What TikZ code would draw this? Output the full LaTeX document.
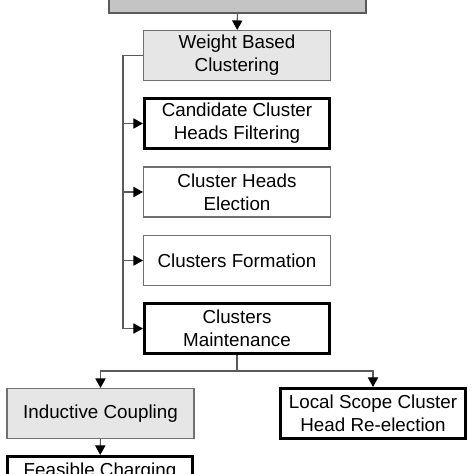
\documentclass[tikz,border=0pt]{standalone}
\usepackage{fontspec}
\setmainfont{Liberation Sans}
\usetikzlibrary{arrows.meta}
\definecolor{wirecol}{HTML}{5A5A5A}
\definecolor{boxline}{HTML}{707070}
\definecolor{lightfill}{HTML}{E6E6E6}
\definecolor{darkfill}{HTML}{C4C4C4}
\tikzset{
  stage/.style={draw=boxline,line width=0.6pt,fill=white,minimum width=3.74cm,minimum height=1.0cm,
    align=center,inner sep=0pt,font=\fontsize{10.7}{13.1}\selectfont},
  keystage/.style={stage,draw=black,line width=1.8pt,minimum width=3.7cm,minimum height=1.0cm},
  shaded/.style={stage,fill=lightfill},
  wire/.style={draw=wirecol,line width=0.6pt}
}

\begin{document}
\begin{tikzpicture}[>={Triangle[length=5.4pt,width=5.8pt,black]}]
  \clip (0,0) rectangle (9.48,-9.48);
  \useasboundingbox (0,0) rectangle (9.48,-9.48);

  \node[stage,draw=wirecol,fill=darkfill,minimum width=5.14cm,minimum height=1.06cm] (top) at (4.75,0.27) {};
  \node[shaded] (weight) at (4.74,-1.11) {Weight Based\\Clustering};
  \node[keystage] (cand) at (4.74,-2.47) {Candidate Cluster\\Heads Filtering};
  \node[stage] (elect) at (4.74,-3.84) {Cluster Heads\\Election};
  \node[stage] (form) at (4.74,-5.21) {Clusters Formation};
  \node[keystage] (maint) at (4.74,-6.57) {Clusters\\Maintenance};
  \node[shaded] (induct) at (2.01,-8.27) {Inductive Coupling};
  \node[keystage] (reelect) at (7.46,-8.27) {Local Scope Cluster\\Head Re-election};
  \node[keystage] (charge) at (2.0,-9.63) {Feasible Charging\\Path};

  \coordinate (bus) at (2.46,-1.11);
  \coordinate (split) at (4.74,-7.42);

  \draw[wire,->] (top) -- (weight);
  \draw[wire] (weight.west) -- (bus);
  \draw[wire,->] (bus) |- (cand.west);
  \draw[wire,->] (bus) |- (elect.west);
  \draw[wire,->] (bus) |- (form.west);
  \draw[wire,->] (bus) |- (maint.west);
  \draw[wire] (maint) -- (split);
  \draw[wire,->] (split) -| (induct.north);
  \draw[wire,->] (split) -| (reelect.north);
  \draw[wire,->] (induct) -- (charge);
\end{tikzpicture}
\end{document}
